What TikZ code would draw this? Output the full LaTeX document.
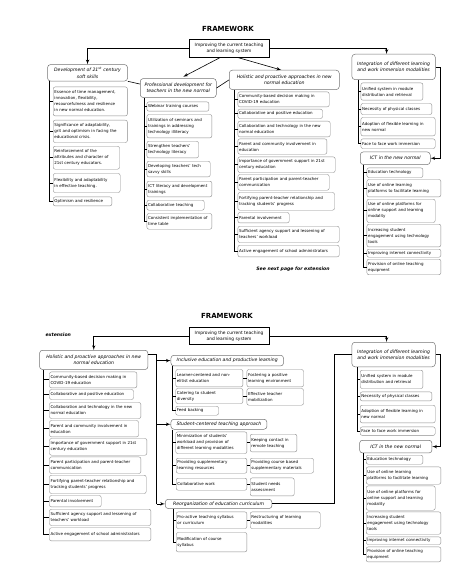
\documentclass[tikz,border=0pt]{standalone}
\usepackage{fontspec}
\setmainfont{DejaVu Sans}
\usetikzlibrary{arrows}

\newcommand{\leaffont}{\fontsize{4}{6}\selectfont}
\newcommand{\headfont}{\fontsize{4.6}{6.2}\selectfont\itshape}

\begin{document}
\begin{tikzpicture}[x=1pt,y=-1pt]
  \tikzset{leaf/.style = {draw=black!45, line width=0.4pt, rounded corners=2pt, anchor=north west, align=left, font=\leaffont, inner xsep=1.2pt, inner ysep=0.8pt}}
  \tikzset{head/.style = {draw=black!55, line width=0.5pt, rounded corners=3pt, anchor=north west, align=center, font=\headfont, inner sep=1pt}}
  \tikzset{goal/.style = {draw, line width=0.6pt, anchor=north west, align=center, font=\fontsize{4.4}{6}\selectfont, inner sep=1pt, minimum width=79.5pt}}
  \tikzset{title/.style = {font=\fontsize{7}{8}\selectfont\bfseries}}
  \tikzset{note/.style = {font=\fontsize{4.6}{6}\selectfont\bfseries\itshape}}
  \tikzset{edge/.style = {->, > = latex', line width=0.6pt}}
  \tikzset{trunk/.style = {line width=0.9pt}}
  \useasboundingbox (0,0) rectangle (474,575);

  % first page
  \node[title] (ttl) at (228,29) {FRAMEWORK};
  \node[goal, minimum height=18pt] (root) at (189,39) {Improving the current teaching\\and learning system};

  \node[head, minimum width=80pt, minimum height=16.5pt] (dev) at (47.3,64.3) {Development of 21\textsuperscript{st} century\\soft skills};
  \node[leaf, text width=71.8pt, minimum height=29pt] (d1) at (53,86.7) {Essence of time management,\\innovation, flexibility,\\resourcefulness and resilience\\in new normal education.};
  \node[leaf, text width=71.8pt, minimum height=22.3pt] (d2) at (53,120) {Significance of adaptability,\\grit and optimism in facing the\\educational crisis.};
  \node[leaf, text width=63.9pt, minimum height=23pt] (d3) at (53,146) {Reinforcement of the\\attributes and character of\\21st century educators.};
  \node[leaf, text width=64.6pt, minimum height=19pt] (d4) at (53,173.3) {Flexibility and adaptability\\in effective teaching.};
  \node[leaf, text width=56.3pt, minimum height=9pt] (d5) at (53,196.7) {Optimism and resilience};

  \node[head, minimum width=76pt, minimum height=19pt] (prof) at (140,78.3) {Professional development for\\teachers in the new normal};
  \node[leaf, text width=59.6pt, minimum height=9.3pt] (p1) at (146.7,101.7) {Webinar training courses};
  \node[leaf, text width=62.6pt, minimum height=23.4pt] (p2) at (146.7,114.3) {Utilization of seminars and\\trainings in addressing\\technology illiteracy};
  \node[leaf, text width=49.2pt, minimum height=16.7pt] (p3) at (146.7,141) {Strengthen teachers'\\technology literacy};
  \node[leaf, text width=60.9pt, minimum height=15.7pt] (p4) at (146.7,161) {Developing teachers' tech\\savvy skills};
  \node[leaf, text width=62.6pt, minimum height=15.7pt] (p5) at (146.7,181) {ICT literacy and development\\trainings};
  \node[leaf, text width=54.9pt, minimum height=10pt] (p6) at (146.7,200) {Collaborative teaching};
  \node[leaf, text width=62.6pt, minimum height=15.7pt] (p7) at (146.7,213.3) {Consistent implementation of\\time table};

  \node[head, minimum width=110pt, minimum height=19.3pt] (hol) at (229,70) {Holistic and proactive approaches in new\\normal education};
  \node[leaf, text width=88.9pt, minimum height=15pt] (h1) at (237.7,91.7) {Community-based decision making in\\COVID-19 education};
  \node[leaf, text width=82.2pt, minimum height=9.3pt] (h2) at (237.7,109) {Collaborative and positive education};
  \node[leaf, text width=89.9pt, minimum height=15.7pt] (h3) at (237.7,121) {Collaboration and technology in the new\\normal education};
  \node[leaf, text width=86.6pt, minimum height=15.3pt] (h4) at (237.7,138.7) {Parent and community involvement in\\education};
  \node[leaf, text width=94.9pt, minimum height=15.6pt] (h5) at (237.7,156.7) {Importance of government support in 21st\\century education};
  \node[leaf, text width=88.9pt, minimum height=15.7pt] (h6) at (237.7,174.3) {Parent participation and parent-teacher\\communication};
  \node[leaf, text width=94.2pt, minimum height=17.7pt] (h7) at (237.7,192.3) {Fortifying parent-teacher relationship and\\tracking students' progress};
  \node[leaf, text width=48.9pt, minimum height=10.4pt] (h8) at (237.7,212.3) {Parental involvement};
  \node[leaf, text width=98.9pt, minimum height=16.3pt] (h9) at (237.7,226) {Sufficient agency support and lessening of\\teachers' workload};
  \node[leaf, text width=98.9pt, minimum height=11.7pt] (h10) at (237.7,245) {Active engagement of school administrators};
  \node[note] (seenext) at (293,269) {See next page for extension};

  \node[head, minimum width=83.3pt, minimum height=25.3pt] (integ) at (351.7,54) {Integration of different learning\\and work immersion modalities};
  \node[leaf, text width=59.6pt, minimum height=17.3pt] (g1) at (360.7,82.7) {Unified system in module\\distribution and retrieval};
  \node[leaf, text width=68.6pt, minimum height=11pt] (g2) at (360.7,103.3) {Necessity of physical classes};
  \node[leaf, text width=71.9pt, minimum height=18.4pt] (g3) at (360.7,117.3) {Adoption of flexible learning in\\new normal};
  \node[leaf, text width=71.9pt, minimum height=9.6pt] (g4) at (360.7,138.7) {Face to face work immersion};
  \node[head, minimum width=70pt, minimum height=12.6pt] (ict) at (360,151.7) {ICT in the new normal};
  \node[leaf, text width=53.6pt, minimum height=9.6pt] (c1) at (366.7,167.7) {Education technology};
  \node[leaf, text width=71.6pt, minimum height=17.4pt] (c2) at (366.7,179.3) {Use of online learning\\platforms to facilitate learning};
  \node[leaf, text width=65.9pt, minimum height=23.3pt] (c3) at (366.7,199) {Use of online platforms for\\online support and learning\\modality};
  \node[leaf, text width=71.6pt, minimum height=22.7pt] (c4) at (366.7,224) {Increasing student\\engagement using technology\\tools};
  \node[leaf, text width=71.6pt, minimum height=8pt] (c5) at (366.7,249) {Improving internet connectivity};
  \node[leaf, text width=71.6pt, minimum height=15.5pt] (c6) at (366.7,259) {Provision of online teaching\\equipment};

  % first page links
  \draw[edge] (root.west) -| (dev.north);
  \draw[edge] (root.east) -| ([xshift=-7pt]integ.north);
  \draw[edge] ([xshift=-9pt]root.south) -- ([xshift=5pt,yshift=1.5pt]prof.north);
  \draw[edge] ([xshift=9pt]root.south) -- ([xshift=-3pt]hol.north);
  \draw[line width=0.6pt] (dev.south east) -- ([yshift=4pt]prof.west);
  \draw[line width=0.6pt] (prof.east) -- (hol.west);
  \draw[edge] (integ.east) -- ++(4.5pt,0) |- (ict.east);

  \coordinate (devT) at ([xshift=2pt]dev.south west);
  \draw[trunk] (devT) |- (d5.west);
  \foreach \k in {d1,d2,d3,d4} {\draw[trunk] (devT |- \k.west) -- (\k.west);}
  \coordinate (profT) at ([xshift=4pt]prof.south west);
  \draw[trunk] (profT) |- (p7.west);
  \foreach \k in {p1,p2,p3,p4,p5,p6} {\draw[trunk] (profT |- \k.west) -- (\k.west);}
  \coordinate (holT) at ([xshift=5.3pt]hol.south west);
  \draw[trunk] (holT) |- (h10.west);
  \foreach \k in {h1,h2,h3,h4,h5,h6,h7,h8,h9} {\draw[trunk] (holT |- \k.west) -- (\k.west);}
  \coordinate (integT) at ([xshift=6.6pt]integ.south west);
  \draw[trunk] (integT) |- (g4.west);
  \foreach \k in {g1,g2,g3} {\draw[trunk] (integT |- \k.west) -- (\k.west);}
  \coordinate (ictT) at ([xshift=3.3pt]ict.south west);
  \draw[trunk] (ictT) |- (c6.west);
  \foreach \k in {c1,c2,c3,c4,c5} {\draw[trunk] (ictT |- \k.west) -- (\k.west);}

  % second page
  \node[title] (ttl2) at (227,316) {FRAMEWORK};
  \node[goal, minimum height=17pt] (root2) at (189,327.3) {Improving the current teaching\\and learning system};
  \node[note, anchor=west] (ext) at (42,334.3) {extension};

  \node[head, minimum width=108.4pt, minimum height=19.3pt] (hol2) at (39.3,350) {Holistic and proactive approaches in new\\normal education};
  \node[leaf, text width=85pt, minimum height=16pt] (b1) at (49.3,371.7) {Community-based decision making in\\COVID-19 education};
  \node[leaf, text width=81.6pt, minimum height=10pt] (b2) at (49.3,389.3) {Collaborative and positive education};
  \node[leaf, text width=89pt, minimum height=16pt] (b3) at (49.3,402.3) {Collaboration and technology in the new\\normal education};
  \node[leaf, text width=86.6pt, minimum height=16.4pt] (b4) at (49.3,420.3) {Parent and community involvement in\\education};
  \node[leaf, text width=95pt, minimum height=16.7pt] (b5) at (49.3,438.3) {Importance of government support in 21st\\century education};
  \node[leaf, text width=89pt, minimum height=16.6pt] (b6) at (49.3,456.7) {Parent participation and parent-teacher\\communication};
  \node[leaf, text width=94.3pt, minimum height=18.3pt] (b7) at (49.3,475) {Fortifying parent-teacher relationship and\\tracking students' progress};
  \node[leaf, text width=49.3pt, minimum height=11.4pt] (b8) at (49.3,495.3) {Parental involvement};
  \node[leaf, text width=99pt, minimum height=16.3pt] (b9) at (49.3,509) {Sufficient agency support and lessening of\\teachers' workload};
  \node[leaf, text width=99pt, minimum height=13.2pt] (b10) at (49.3,527.5) {Active engagement of school administrators};

  \node[head, minimum width=112.6pt, minimum height=10.7pt] (incl) at (170.7,355) {Inclusive education and productive learning};
  \node[leaf, text width=64.8pt, minimum height=17.4pt] (i1) at (175.5,369.3) {Learner-centered and non-\\elitist education};
  \node[leaf, text width=54.2pt, minimum height=17.4pt] (i2) at (246.7,369.3) {Fostering a positive\\learning environment};
  \node[leaf, text width=64.8pt, minimum height=15pt] (i3) at (175.5,388.3) {Catering to student\\diversity};
  \node[leaf, text width=54.2pt, minimum height=16.7pt] (i4) at (246.7,388.3) {Effective teacher\\mobilization};
  \node[leaf, text width=40.4pt, minimum height=9pt] (i5) at (175.5,406) {Feed backing};

  \node[head, minimum width=96pt, minimum height=10pt] (stud) at (170.7,419) {Student-centered teaching approach};
  \node[leaf, text width=68.8pt, minimum height=21.6pt] (s1) at (175.5,431.7) {Minimization of students'\\workload and provision of\\different learning modalities};
  \node[leaf, text width=44.3pt, minimum height=17.7pt] (s2) at (250,434) {Keeping contact in\\remote teaching};
  \node[leaf, text width=68.3pt, minimum height=15pt] (s3) at (176,458) {Providing supplementary\\learning resources};
  \node[leaf, text width=60.9pt, minimum height=15pt] (s4) at (250,458) {Providing course based\\supplementary materials};
  \node[leaf, text width=68.3pt, minimum height=12pt] (s5) at (176,478) {Collaborative work};
  \node[leaf, text width=41.6pt, minimum height=18pt] (s6) at (250,477.7) {Student needs\\assessment};

  \node[head, minimum width=106.7pt, minimum height=9.3pt] (reorg) at (165,499) {Reorganization of education curriculum};
  \node[leaf, text width=68.3pt, minimum height=16.6pt] (r1) at (176,511.7) {Pro-active teaching syllabus\\or curriculum};
  \node[leaf, text width=67.6pt, minimum height=16.6pt] (r2) at (250,511.7) {Restructuring of learning\\modalities};
  \node[leaf, text width=68.3pt, minimum height=19.4pt] (r3) at (176,532.3) {Modification of course\\syllabus};

  \node[head, minimum width=83.3pt, minimum height=24.5pt] (integ2) at (351.7,342) {Integration of different learning\\and work immersion modalities};
  \node[leaf, text width=60.3pt, minimum height=18.3pt] (e1) at (360,370) {Unified system in module\\distribution and retrieval};
  \node[leaf, text width=69.3pt, minimum height=9pt] (e2) at (360,391.7) {Necessity of physical classes};
  \node[leaf, text width=72.6pt, minimum height=17.7pt] (e3) at (360,405) {Adoption of flexible learning in\\new normal};
  \node[leaf, text width=72.6pt, minimum height=8.5pt] (e4) at (360,426.7) {Face to face work immersion};
  \node[head, minimum width=72.4pt, minimum height=12.7pt] (ict2) at (359.3,440) {ICT in the new normal};
  \node[leaf, text width=54.3pt, minimum height=9pt] (f1) at (366,455) {Education technology};
  \node[leaf, text width=72.3pt, minimum height=17.3pt] (f2) at (366,466.7) {Use of online learning\\platforms to facilitate learning};
  \node[leaf, text width=66.6pt, minimum height=24.3pt] (f3) at (366,485.7) {Use of online platforms for\\online support and learning\\modality};
  \node[leaf, text width=72.3pt, minimum height=22.3pt] (f4) at (366,511.7) {Increasing student\\engagement using technology\\tools};
  \node[leaf, text width=72.3pt, minimum height=7.6pt] (f5) at (366,536.7) {Improving internet connectivity};
  \node[leaf, text width=72.3pt, minimum height=15pt] (f6) at (366,546.7) {Provision of online teaching\\equipment};

  % second page links
  \draw[edge] (root2.west) -| (hol2.north);
  \draw[edge] (root2.east) -| ([xshift=-7pt]integ2.north);
  \coordinate (hub) at ([xshift=-8.3pt]reorg.west);
  \draw[trunk] ([yshift=5pt]hol2.east) -| (hub);
  \draw[edge] (hub |- incl.west) -- (incl.west);
  \draw[edge] (hub |- stud.west) -- (stud.west);
  \draw[edge] (hub) -- (reorg.west);
  \draw[trunk] (integ2.west) -- ++(-17pt,0) |- (reorg.east);
  \draw[edge] (integ2.east) -- ++(4.5pt,0) |- (ict2.east);

  \coordinate (hol2T) at ([xshift=4pt]hol2.south west);
  \draw[trunk] (hol2T) |- (b10.west);
  \foreach \k in {b1,b2,b3,b4,b5,b6,b7,b8,b9} {\draw[trunk] (hol2T |- \k.west) -- (\k.west);}
  \coordinate (inclT) at ([xshift=2pt]incl.south west);
  \draw[trunk] (inclT) |- (i5.west);
  \foreach \k in {i1,i3} {\draw[trunk] (inclT |- \k.west) -- (\k.west);}
  \draw[trunk] (i1.east) -- (i1.east -| i2.west);
  \draw[trunk] (i3.east) -- (i3.east -| i4.west);
  \coordinate (studT) at ([xshift=2pt]stud.south west);
  \draw[trunk] (studT) |- (s5.west);
  \foreach \k in {s1,s3} {\draw[trunk] (studT |- \k.west) -- (\k.west);}
  \draw[trunk] (s1.east) -- (s1.east -| s2.west);
  \draw[trunk] (s3.east) -- (s3.east -| s4.west);
  \draw[trunk] (s5.east) -- (s5.east -| s6.west);
  \coordinate (reorgT) at ([xshift=8.3pt]reorg.south west);
  \draw[trunk] (reorgT) |- (r3.west);
  \draw[trunk] (reorgT |- r1.west) -- (r1.west);
  \draw[trunk] (r1.east) -- (r1.east -| r2.west);
  \coordinate (integ2T) at ([xshift=5.6pt]integ2.south west);
  \draw[trunk] (integ2T) |- (e4.west);
  \foreach \k in {e1,e2,e3} {\draw[trunk] (integ2T |- \k.west) -- (\k.west);}
  \coordinate (ict2T) at ([xshift=4pt]ict2.south west);
  \draw[trunk] (ict2T) |- (f6.west);
  \foreach \k in {f1,f2,f3,f4,f5} {\draw[trunk] (ict2T |- \k.west) -- (\k.west);}
\end{tikzpicture}
\end{document}
